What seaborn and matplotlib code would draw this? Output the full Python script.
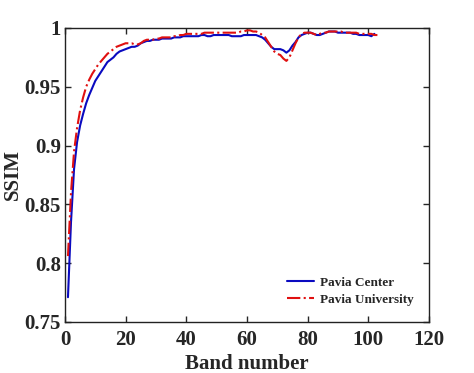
import numpy as np
import pandas as pd
import matplotlib
matplotlib.use("Agg")
import matplotlib.pyplot as plt
import seaborn as sns

center_ssim = [
    0.771, 0.835, 0.880, 0.903, 0.917, 0.927, 0.936, 0.943, 0.949, 0.955,
    0.959, 0.963, 0.967, 0.971, 0.973, 0.975, 0.978, 0.980, 0.981, 0.982,
    0.983, 0.984, 0.984, 0.985, 0.987, 0.988, 0.989, 0.989, 0.990, 0.990,
    0.990, 0.991, 0.991, 0.991, 0.991, 0.992, 0.992, 0.992, 0.993, 0.993,
    0.993, 0.993, 0.993, 0.993, 0.994, 0.994, 0.993, 0.993, 0.994, 0.994,
    0.994, 0.994, 0.994, 0.994, 0.993, 0.993, 0.993, 0.993, 0.994, 0.994,
    0.994, 0.994, 0.994, 0.993, 0.992, 0.990, 0.987, 0.984, 0.982, 0.982,
    0.982, 0.981, 0.979, 0.981, 0.985, 0.988, 0.992, 0.994, 0.995, 0.996,
    0.996, 0.995, 0.994, 0.994, 0.995, 0.996, 0.997, 0.997, 0.997, 0.996,
    0.996, 0.996, 0.996, 0.996, 0.995, 0.995, 0.994, 0.994, 0.994, 0.994,
    0.993, 0.995,
]
university_ssim = [
    0.806, 0.860, 0.895, 0.915, 0.930, 0.941, 0.950, 0.956, 0.961, 0.965,
    0.969, 0.972, 0.975, 0.978, 0.980, 0.982, 0.984, 0.985, 0.986, 0.987,
    0.987, 0.987, 0.986, 0.986, 0.987, 0.989, 0.990, 0.990, 0.990, 0.991,
    0.991, 0.992, 0.992, 0.992, 0.992, 0.993, 0.993, 0.994, 0.994, 0.995,
    0.995, 0.995, 0.995, 0.995, 0.995, 0.996, 0.996, 0.996, 0.996, 0.996,
    0.996, 0.996, 0.996, 0.996, 0.996, 0.996, 0.996, 0.997, 0.997, 0.998,
    0.998, 0.997, 0.997, 0.996, 0.994, 0.992, 0.988, 0.984, 0.980, 0.978,
    0.977, 0.974, 0.972, 0.975, 0.981, 0.987, 0.992, 0.995, 0.996, 0.996,
    0.996, 0.995, 0.994, 0.995, 0.996, 0.996, 0.997, 0.997, 0.997, 0.997,
    0.997, 0.996, 0.996, 0.996, 0.996, 0.996, 0.995, 0.995, 0.995, 0.995,
    0.995, 0.994, 0.994,
]
center_bands = list(range(1, len(center_ssim) + 1))
university_bands = list(range(1, len(university_ssim) + 1))

x_ticks = [0, 20, 40, 60, 80, 100, 120]
y_ticks = [0.75, 0.8, 0.85, 0.9, 0.95, 1.0]
y_ticklabels = ["0.75", "0.8", "0.85", "0.9", "0.95", "1"]

sns.set_style("ticks")
plt.rcParams["font.family"] = ["Liberation Serif", "DejaVu Serif"]
plt.rcParams["font.weight"] = "bold"

fig = plt.figure(figsize=(4.74, 3.73), dpi=100)
ax = fig.add_axes([0.137, 0.137, 0.768, 0.788])

sns.lineplot(x=center_bands, y=center_ssim, ax=ax, color="#0a0ac0",
             linewidth=1.5, label="Pavia Center")
sns.lineplot(x=university_bands, y=university_ssim, ax=ax, color="#e01010",
             linewidth=1.5, linestyle="-.", label="Pavia University")

ax.set_xlim(0, 120)
ax.set_ylim(0.75, 1.0)
ax.set_xticks(x_ticks)
ax.set_yticks(y_ticks)
ax.set_yticklabels(y_ticklabels)
ax.tick_params(direction="in", top=True, right=True, length=4, width=1,
               labelsize=15)
ax.tick_params(axis="x", pad=6)
ax.tick_params(axis="y", pad=3)
for lbl in ax.get_xticklabels() + ax.get_yticklabels():
    lbl.set_fontweight("bold")
for s in ax.spines.values():
    s.set_linewidth(1.0)
    s.set_color("#222222")

ax.set_xlabel("Band number", fontsize=15, fontweight="bold", labelpad=3)
ax.set_ylabel("SSIM", fontsize=15, fontweight="bold", labelpad=1)

leg = ax.legend(loc="lower right", frameon=False, fontsize=9.5,
                handlelength=2.1, handletextpad=0.4, labelspacing=0.35,
                bbox_to_anchor=(0.99, 0.015))
for t in leg.get_texts():
    t.set_fontweight("bold")

fig.savefig("out.png", dpi=100)
